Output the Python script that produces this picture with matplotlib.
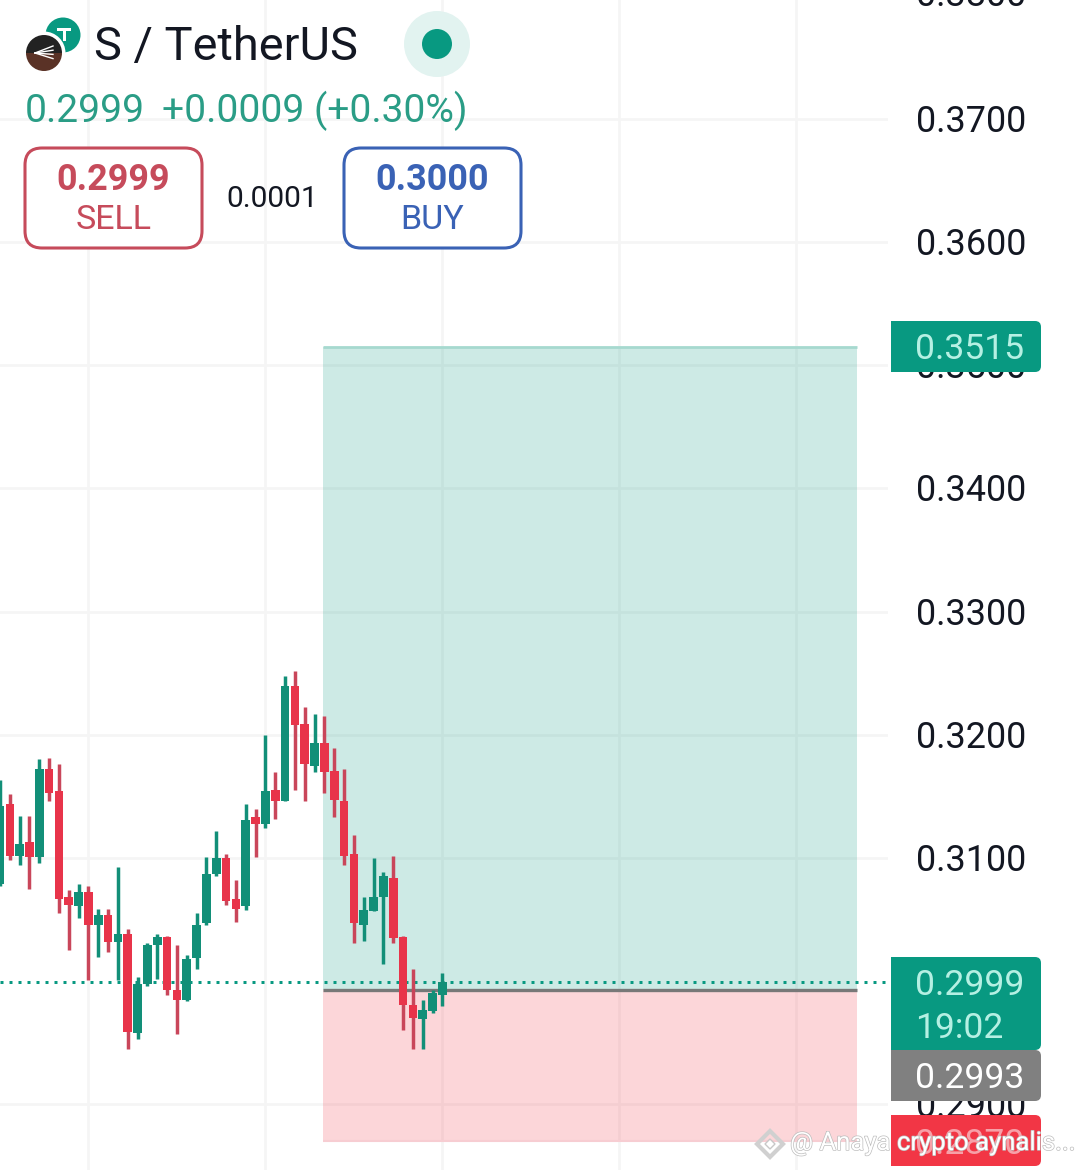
# --------------------------------
# Import Libraries
# --------------------------------
import numpy as np
import matplotlib
matplotlib.use("Agg")
import matplotlib.pyplot as plt
import matplotlib.patheffects as pe
from matplotlib.patches import Circle, FancyBboxPatch, Polygon, Rectangle, Wedge
from matplotlib.transforms import ScaledTranslation

plt.rcParams['font.family'] = ['Roboto', 'DejaVu Sans']

# --------------------------------
# Data
# --------------------------------
opens = [0.3079, 0.3144, 0.3102, 0.3113, 0.3101, 0.3172, 0.3154, 0.3068, 0.3061, 0.3072,
         0.3046, 0.3054, 0.3032, 0.3038, 0.2958, 0.2998, 0.3029, 0.3036, 0.2993, 0.2985,
         0.3019, 0.3047, 0.3087, 0.3100, 0.3067, 0.3061, 0.3133, 0.3128, 0.3155, 0.3146,
         0.3240, 0.3209, 0.3175, 0.3193, 0.3171, 0.3146, 0.3103, 0.3046, 0.3057, 0.3068,
         0.3084, 0.3036, 0.2981, 0.2969, 0.2976, 0.2989]
closes = [0.3142, 0.3102, 0.3111, 0.3101, 0.3172, 0.3153, 0.3067, 0.3062, 0.3072, 0.3046,
          0.3054, 0.3032, 0.3038, 0.2959, 0.2998, 0.3029, 0.3036, 0.2993, 0.2985, 0.3018,
          0.3046, 0.3087, 0.3100, 0.3065, 0.3059, 0.3131, 0.3128, 0.3154, 0.3146, 0.3240,
          0.3208, 0.3176, 0.3193, 0.3170, 0.3147, 0.3102, 0.3047, 0.3058, 0.3068, 0.3085,
          0.3035, 0.2981, 0.2970, 0.2977, 0.2990, 0.2999]
highs = [0.3163, 0.3152, 0.3134, 0.3134, 0.3180, 0.3181, 0.3176, 0.3074, 0.3079, 0.3077,
         0.3059, 0.3059, 0.3093, 0.3042, 0.3003, 0.3031, 0.3038, 0.3037, 0.3029, 0.3021,
         0.3055, 0.3101, 0.3122, 0.3103, 0.3082, 0.3144, 0.3140, 0.3200, 0.3170, 0.3248,
         0.3252, 0.3223, 0.3217, 0.3215, 0.3189, 0.3172, 0.3119, 0.3068, 0.3100, 0.3089,
         0.3102, 0.3037, 0.3010, 0.2985, 0.2993, 0.3007]
lows = [0.3077, 0.3098, 0.3094, 0.3075, 0.3096, 0.3146, 0.3055, 0.3025, 0.3051, 0.3001,
        0.3020, 0.3024, 0.3001, 0.2945, 0.2953, 0.2996, 0.3002, 0.2989, 0.2957, 0.2984,
        0.3010, 0.3046, 0.3085, 0.3062, 0.3048, 0.3058, 0.3101, 0.3124, 0.3132, 0.3146,
        0.3155, 0.3146, 0.3170, 0.3153, 0.3133, 0.3094, 0.3031, 0.3033, 0.3057, 0.3014,
        0.3031, 0.2960, 0.2945, 0.2945, 0.2974, 0.2980]

price_ticks = [0.37, 0.36, 0.35, 0.34, 0.33, 0.32, 0.31, 0.29]
time_grid = [9, 27, 45, 63, 81]

last_price = 0.2999
entry_price = 0.2993
target_price = 0.3515
stop_price = 0.2870
position_start = 32.85
position_end = 87.15

# --------------------------------
# Colors
# --------------------------------
GREEN = "#089981"
RED = "#f23645"
BODY_GREEN = "#128f78"
BODY_RED = "#e8344a"
WICK_RED = "#c9465a"
GRID = "#f5f5f5"

# --------------------------------
# Main chart
# --------------------------------
fig = plt.figure(figsize=(10.8, 11.7), dpi=100, facecolor="white")

ax = fig.add_axes([0, 0, 888 / 1080, 1])
ax.set_xlim(0, 888 / 9.83)
ax.set_ylim(0.28467, 0.37966)

for side in ax.spines.values():
    side.set_visible(False)

ax.yaxis.tick_right()
ax.set_xticks(time_grid)
ax.set_yticks(price_ticks)
ax.set_yticklabels([f"{p:.4f}" for p in price_ticks])
ax.tick_params(axis='x', length=0, labelbottom=False)
ax.tick_params(axis='y', length=0, pad=20, labelsize=25.9, labelcolor="#131722")
ax.grid(True, color=GRID, linewidth=2)
ax.set_axisbelow(True)

# labels sit one pixel above their grid line
nudge = ScaledTranslation(0, 1 / 100, fig.dpi_scale_trans)
for tick_label in ax.get_yticklabels():
    tick_label.set_transform(tick_label.get_transform() + nudge)

ax.text(1.0315, 0.38, "0.3800", transform=ax.get_yaxis_transform(), fontsize=25.9,
        color="#131722", va='center', clip_on=False)

# long position zones
ax.add_patch(Rectangle((position_start, entry_price), position_end - position_start,
                       target_price - entry_price, facecolor=GREEN, alpha=0.2,
                       edgecolor="none", zorder=2))
ax.add_patch(Rectangle((position_start, stop_price), position_end - position_start,
                       entry_price - stop_price, facecolor=RED, alpha=0.2,
                       edgecolor="none", zorder=2))
ax.hlines(target_price, position_start, position_end, color="#a6d9cf", linewidth=2, zorder=2.5)
ax.hlines(stop_price, position_start, position_end, color="#f7cdd2", linewidth=1.5, zorder=2.5)
ax.hlines(entry_price, position_start, position_end, color="#787878", linewidth=2.4, zorder=2.5)

# last price line
ax.axhline(last_price, color=GREEN, linewidth=2.16, linestyle=(0, (1, 2)), zorder=3)

# candles
x = np.arange(len(opens))
o = np.array(opens)
c = np.array(closes)
up = c >= o
ax.vlines(x[up], np.array(lows)[up], np.array(highs)[up], color=BODY_GREEN, linewidth=2.5, zorder=4)
ax.vlines(x[~up], np.array(lows)[~up], np.array(highs)[~up], color=WICK_RED, linewidth=2.5, zorder=4)
ax.bar(x, np.abs(c - o), bottom=np.minimum(o, c), width=0.88,
       color=[BODY_GREEN if u else BODY_RED for u in up], zorder=5)

# --------------------------------
# Overlay in pixels (header and price tags)
# --------------------------------
top = fig.add_axes([0, 0, 1, 1])
top.set_xlim(0, 1080)
top.set_ylim(1170, 0)
top.axis('off')


def y_px(price):
    return 119 + (0.37 - price) * 12317


def label(xp, yp, text, size, color, **kw):
    kw.setdefault('ha', 'left')
    kw.setdefault('va', 'center')
    return top.text(xp, yp, text, fontsize=size * 0.72, color=color, **kw)


def order_box(x0, color, price, word):
    top.add_patch(FancyBboxPatch((x0, 148), 177, 100, boxstyle="round,pad=0,rounding_size=17",
                                 facecolor="white", edgecolor=color, linewidth=2.2, zorder=2))
    label(x0 + 88.5, 180, price, 36, color, ha='center', fontweight='bold', zorder=3)
    label(x0 + 88.5, 220, word, 34, color, ha='center', zorder=3)


def price_tag(y0, y1, color, lines, text_color):
    top.add_patch(FancyBboxPatch((891, y0), 150, y1 - y0, boxstyle="round,pad=0,rounding_size=6",
                                 facecolor=color, edgecolor="none", zorder=4))
    top.add_patch(Rectangle((891, y0), 20, y1 - y0, facecolor=color, edgecolor="none", zorder=4))
    for yp, text in lines:
        label(915, yp, text, 35.5, text_color, zorder=5)


# coin icons
top.add_patch(Circle((63, 35), 17.5, facecolor=GREEN, edgecolor="none", zorder=1))
top.add_patch(Polygon([[57, 28], [71, 28], [71, 31], [66, 31], [66, 41], [63, 41], [63, 31], [57, 31]],
                      facecolor="white", edgecolor="none", zorder=1.5))
top.add_patch(Circle((44, 53), 21.5, facecolor="white", edgecolor="none", zorder=2))
top.add_patch(Wedge((44, 53), 18, 0, 180, facecolor="#5a3226", edgecolor="none", zorder=3))
top.add_patch(Wedge((44, 53), 18, 180, 360, facecolor="#222222", edgecolor="none", zorder=3))
for dy in [-5, -2, 1, 4]:
    top.plot([35, 53], [53, 53 + dy * 1.4], color="white", linewidth=1, zorder=4)

# title and change
label(94, 47, "S / TetherUS", 47, "#131722")
top.add_patch(Circle((437, 44), 33, facecolor="#e2f3f0", edgecolor="none"))
top.add_patch(Circle((437, 44), 15, facecolor=GREEN, edgecolor="none"))
label(25, 111, "0.2999", 39, "#2a9d86")
label(162, 111, "+0.0009 (+0.30%)", 39, "#2a9d86")

# sell, spread and buy
order_box(25, "#c64b5b", "0.2999", "SELL")
label(272, 199, "0.0001", 30, "#131722", ha='center')
order_box(344, "#3a62b5", "0.3000", "BUY")

# price tags on the axis
price_tag(321, 372, GREEN, [(y_px(target_price) + 3, "0.3515")], "#b5f0e3")
price_tag(957, 1050, GREEN, [(y_px(last_price) + 3, "0.2999"), (1029, "19:02")], "#b5f0e3")
price_tag(1050, 1101, "#808080", [(1079, "0.2993")], "white")
price_tag(1115, 1166, RED, [(y_px(stop_price) + 3, "0.2870")], "#f7a0a8")

# --------------------------------
# Watermark
# --------------------------------
top.add_patch(Polygon([[770, 1131], [783, 1144], [770, 1157], [757, 1144]], facecolor="none",
                      edgecolor="#d0d0d0", linewidth=3, zorder=6))
top.add_patch(Polygon([[770, 1139], [775, 1144], [770, 1149], [765, 1144]], facecolor="white",
                      edgecolor="#c8c8c8", linewidth=1, zorder=6))
mark = label(790, 1143, "@ Anaya crypto aynalis...", 25.7, "white", zorder=6)
mark.set_path_effects([pe.withStroke(linewidth=1.0, foreground="#bdbdbd")])

# --------------------------------
# Save
# --------------------------------
fig.savefig("out.png", dpi=100)
